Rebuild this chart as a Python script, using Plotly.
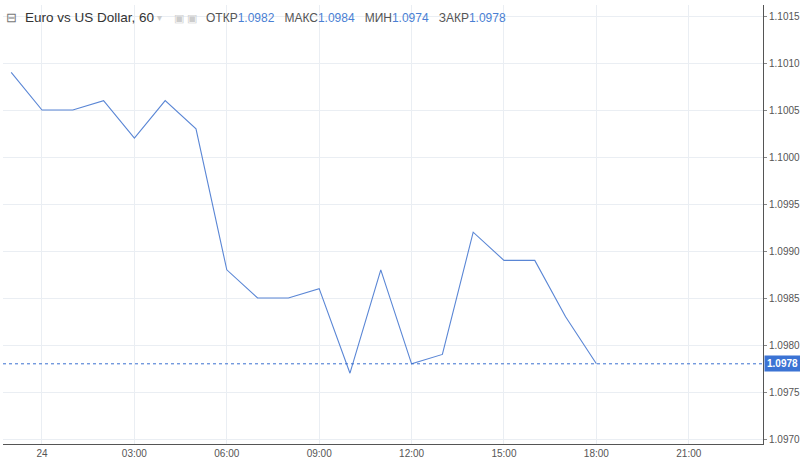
import plotly.graph_objects as go

hours = [-1, 0, 1, 2, 3, 4, 5, 6, 7, 8, 9, 10, 11, 12, 13, 14, 15, 16, 17, 18]
prices = [1.1009, 1.1005, 1.1005, 1.1006, 1.1002, 1.1006, 1.1003, 1.0988, 1.0985, 1.0985,
          1.0986, 1.0977, 1.0988, 1.0978, 1.0979, 1.0992, 1.0989, 1.0989, 1.0983, 1.0978]
x_tickvals = [0, 3, 6, 9, 12, 15, 18, 21]
x_ticktext = ["24", "03:00", "06:00", "09:00", "12:00", "15:00", "18:00", "21:00"]
y_tickvals = [1.0970, 1.0975, 1.0980, 1.0985, 1.0990, 1.0995, 1.1000, 1.1005, 1.1010, 1.1015]
last_price = 1.0978
ohlc_labels = ["ОТКР", "МАКС", "МИН", "ЗАКР"]
ohlc_values = ["1.0982", "1.0984", "1.0974", "1.0978"]

line_color = "#5a86d5"
grid_color = "#eaeef3"

fig = go.Figure()
fig.add_trace(go.Scatter(x=hours, y=prices, mode="lines",
                         line=dict(color=line_color, width=1.1), hoverinfo="skip"))

fig.add_hline(y=last_price, line=dict(color="#3a6fd0", width=1, dash="dot"))

title_text = "Euro vs US Dollar, 60"
ohlc_html = "   ".join(f"<span style='color:#555'>{l}</span><span style='color:#4a7fd4'>{v}</span>"
                       for l, v in zip(ohlc_labels, ohlc_values))
fig.add_annotation(xref="paper", yref="paper", x=0.0, y=1.0, xanchor="left", yanchor="top",
                   xshift=20, yshift=-3, showarrow=False,
                   text=f"<span style='color:#333'>{title_text}</span>",
                   font=dict(family="Liberation Sans, Arial", size=13.5))
fig.add_annotation(xref="paper", yref="paper", x=0.0, y=1.0, xanchor="left", yanchor="top",
                   xshift=201, yshift=-4, showarrow=False, text=ohlc_html,
                   font=dict(family="Liberation Sans, Arial", size=12))
fig.add_annotation(xref="paper", yref="paper", x=0.0, y=1.0, xanchor="left", yanchor="top",
                   xshift=1, yshift=-3, showarrow=False, text="⊟",
                   font=dict(size=13, color="#777"))
fig.add_annotation(xref="paper", yref="paper", x=0.0, y=1.0, xanchor="left", yanchor="top",
                   xshift=152, yshift=-5, showarrow=False,
                   text="<span style='color:#ccc'>▾</span>",
                   font=dict(size=10))
fig.add_annotation(xref="paper", yref="paper", x=0.0, y=1.0, xanchor="left", yanchor="top",
                   xshift=169, yshift=-5, showarrow=False,
                   text="<span style='color:#ccc'>▣ ▣</span>",
                   font=dict(size=11))

# last price label
fig.add_annotation(xref="paper", yref="y", x=1.0, y=last_price, xanchor="left", yanchor="middle",
                   showarrow=False, text="<b>1.0978</b>", bgcolor="#3b73d4",
                   font=dict(color="white", size=10, family="Arial"), borderpad=2, xshift=1)

fig.update_layout(
    width=800, height=466,
    margin=dict(l=3, r=37, t=5, b=22, autoexpand=False),
    paper_bgcolor="white", plot_bgcolor="white",
    showlegend=False,
    font=dict(family="Arial, Liberation Sans", size=11, color="#555"),
    xaxis=dict(range=[-1.266, 23.41], tickvals=x_tickvals, ticktext=x_ticktext,
               showgrid=True, gridcolor=grid_color, gridwidth=1,
               showline=True, linecolor="#555", linewidth=1, zeroline=False,
               ticks="", tickfont=dict(size=10, color="#555"), automargin=False),
    yaxis=dict(range=[1.096947, 1.101617], side="right", tickvals=y_tickvals,
               tickformat=".4f", showgrid=True, gridcolor=grid_color, gridwidth=1,
               showline=True, linecolor="#555", linewidth=1, zeroline=False,
               ticks="outside", ticklen=3, tickcolor="#888", automargin=False,
               tickfont=dict(size=10, color="#555")),
)
fig.add_shape(type="rect", xref="paper", yref="paper", x0=-0.01, x1=1.1, y0=-0.055, y1=-0.1,
              fillcolor="#f0f3f7", line=dict(width=0), layer="below")

fig.write_html("out.html", config={"displayModeBar": False},
               post_script="document.body.style.margin='0';document.body.style.overflow='hidden';")
